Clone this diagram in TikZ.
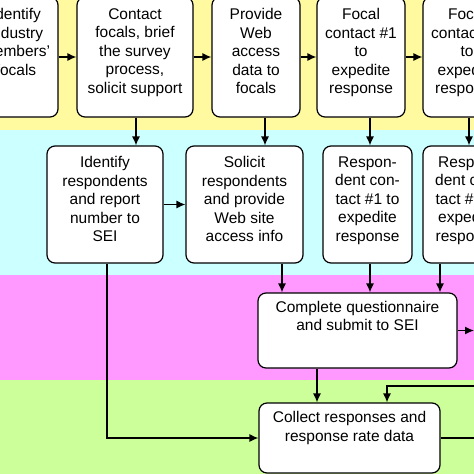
\documentclass[tikz,border=0pt]{standalone}
\usepackage{fontspec}
\setmainfont{Liberation Sans}
\usetikzlibrary{arrows.meta}
\definecolor{lane-yellow}{HTML}{FFF9A0}
\definecolor{lane-cyan}{HTML}{CCFFFF}
\definecolor{lane-pink}{HTML}{FF99FF}
\definecolor{lane-green}{HTML}{CCFF99}

\begin{document}
\begin{tikzpicture}[x=1pt,y=-1pt,
  stepbox/.style={draw,fill=white,rounded corners=8pt,line width=1.2pt,inner sep=0pt},
  steptext/.style={anchor=north,align=center,inner sep=0pt,font=\fontsize{15.5}{18.5}\selectfont},
  flow/.style={line width=1.2pt,-{Latex[length=9pt,width=8pt]}}]
  \useasboundingbox (0,0) rectangle (474,474);
  \clip (0,0) rectangle (474,474);
  \fill[lane-yellow] (0,0) rectangle (474,130);
  \fill[lane-cyan] (0,130) rectangle (474,275);
  \fill[lane-pink] (0,275) rectangle (474,380);
  \fill[lane-green] (0,380) rectangle (474,474);

  \node[stepbox,minimum width=84,minimum height=120] (ind) at (16,57) {};
  \node[stepbox,minimum width=116,minimum height=120] (con) at (135,57) {};
  \node[stepbox,minimum width=88,minimum height=120] (pro) at (256,57) {};
  \node[stepbox,minimum width=88,minimum height=120] (foc1) at (361,57) {};
  \node[stepbox,minimum width=88,minimum height=120] (foc2) at (467,57) {};
  \node[steptext] (indtxt) at ([yshift=-12pt]ind.north) {Identify\\industry\\members'\\focals};
  \node[steptext] (contxt) at ([yshift=-12pt]con.north) {Contact\\focals, brief\\the survey\\process,\\solicit support};
  \node[steptext] (protxt) at ([yshift=-12pt]pro.north) {Provide\\Web\\access\\data to\\focals};
  \node[steptext] (foc1txt) at ([yshift=-12pt]foc1.north) {Focal\\contact \#1\\to\\expedite\\response};
  \node[steptext] (foc2txt) at ([yshift=-12pt]foc2.north) {Focal\\contact \#2\\to\\expedite\\response};

  \node[stepbox,minimum width=116,minimum height=117] (ide) at (105,204.5) {};
  \node[stepbox,minimum width=117,minimum height=117] (sol) at (244.5,204.5) {};
  \node[stepbox,minimum width=89,minimum height=117] (res1) at (367.5,204.5) {};
  \node[stepbox,minimum width=89,minimum height=117] (res2) at (467.5,204.5) {};
  \node[steptext] (idetxt) at ([yshift=-11pt]ide.north) {Identify\\respondents\\and report\\number to\\SEI};
  \node[steptext] (soltxt) at ([yshift=-11pt]sol.north) {Solicit\\respondents\\and provide\\Web site\\access info};
  \node[steptext] (res1txt) at ([yshift=-11pt]res1.north) {Respon-\\dent con-\\tact \#1 to\\expedite\\response};
  \node[steptext] (res2txt) at ([yshift=-11pt]res2.north) {Respon-\\dent con-\\tact \#2 to\\expedite\\response};

  \node[stepbox,minimum width=199,minimum height=75] (cmp) at (357.5,330.5) {};
  \node[steptext] (cmptxt) at ([yshift=-8.5pt]cmp.north) {Complete questionnaire\\and submit to SEI};
  \node[stepbox,minimum width=181,minimum height=70] (col) at (349.5,438) {};
  \node[steptext] (coltxt) at ([yshift=-9pt]col.north) {Collect responses and\\response rate data};

  \coordinate (cmpout) at (474,330.5);
  \coordinate (loopin) at (480,386);
  \coordinate (colout) at (480,438);

  \draw[flow] (ind) -- (con);
  \draw[flow] (con) -- (pro);
  \draw[flow] (pro) -- (foc1);
  \draw[flow] (foc1) -- (foc2);
  \draw[flow] ([xshift=1pt]con.south) -- ([xshift=1pt]con.south |- ide.north);
  \draw[flow] ([xshift=9pt]pro.south) -- ([xshift=9pt]pro.south |- sol.north);
  \draw[flow] ([xshift=9pt]foc1.south) -- ([xshift=9pt]foc1.south |- res1.north);
  \draw[flow] ([xshift=2pt]foc2.south) -- ([xshift=2pt]foc2.south |- res2.north);
  \draw[flow] (ide) -- (sol);
  \draw[flow] ([xshift=37.5pt]sol.south) -- ([xshift=37.5pt]sol.south |- cmp.north);
  \draw[flow] ([xshift=2.5pt]res1.south) -- ([xshift=2.5pt]res1.south |- cmp.north);
  \draw[flow] ([xshift=-27.5pt]res2.south) -- ([xshift=-27.5pt]res2.south |- cmp.north);
  \draw[flow] ([xshift=2pt]ide.south) |- (col.west);
  \draw[flow] (cmp.east) -- (cmpout);
  \draw[flow] ([xshift=-40.5pt]cmp.south) -- ([xshift=-40.5pt]cmp.south |- col.north);
  \draw[flow] (loopin) -| ([xshift=37.5pt]col.north);
  \draw[line width=1.2pt] (col.east) -- (colout);
\end{tikzpicture}
\end{document}
